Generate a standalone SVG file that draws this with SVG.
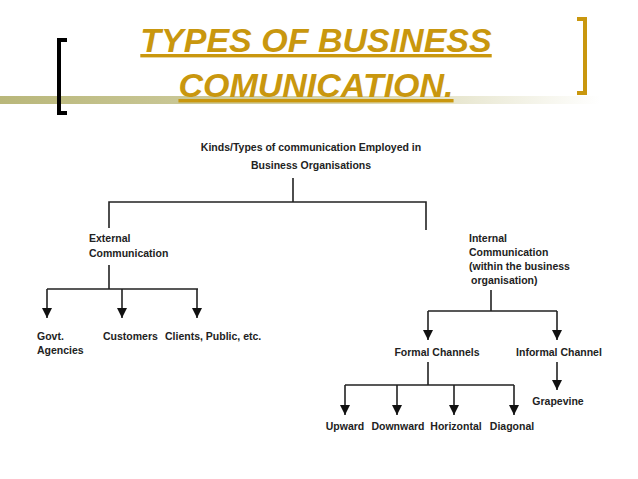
<svg xmlns="http://www.w3.org/2000/svg" width="638" height="479" viewBox="0 0 638 479">
<defs>
<linearGradient id="bar" x1="0" x2="1" y1="0" y2="0">
<stop offset="0" stop-color="#b9b77a"/><stop offset="0.6" stop-color="#d8d6b0"/><stop offset="1" stop-color="#ffffff"/>
</linearGradient>
<marker id="ah" viewBox="0 0 10 10" refX="10" refY="5" markerWidth="10" markerHeight="10" markerUnits="userSpaceOnUse" orient="auto">
<path d="M0,0 L10,5 L0,10 Z" fill="#111"/>
</marker>
<style>
.t{font-family:"Liberation Sans",Arial,sans-serif;font-weight:bold;font-size:10.5px;fill:#222}
.title{font-family:"Liberation Sans",Arial,sans-serif;font-weight:bold;font-style:italic;font-size:34px;fill:#c9970e;text-decoration:underline}
.c line,.c path{stroke:#222;stroke-width:1.6;fill:none}
</style>
</defs>
<rect width="638" height="479" fill="#fff"/>
<rect x="0" y="96" width="600" height="8" fill="url(#bar)"/>
<path d="M67,40 H59 V113 H67" fill="none" stroke="#000" stroke-width="4"/>
<path d="M577,19 H585 V93 H577" fill="none" stroke="#c9970e" stroke-width="4"/>
<g id="title">
<text class="title" x="316" y="52" text-anchor="middle">TYPES OF BUSINESS</text>
<text class="title" x="316" y="97" text-anchor="middle">COMUNICATION.</text>
</g>
<g id="root"><text class="t" x="311" y="151" text-anchor="middle">Kinds/Types of communication Employed in</text><text class="t" x="311" y="169" text-anchor="middle">Business Organisations</text></g>
<g id="external"><text class="t" x="89" y="242">External</text><text class="t" x="89" y="257">Communication</text></g>
<g id="internal"><text class="t" x="469" y="242">Internal</text><text class="t" x="469" y="256">Communication</text><text class="t" x="469" y="270">(within the business</text><text class="t" x="471" y="284">organisation)</text></g>
<g id="govt"><text class="t" x="37" y="340">Govt.</text><text class="t" x="37" y="354">Agencies</text></g>
<g id="customers"><text class="t" x="103" y="340">Customers</text></g>
<g id="clients"><text class="t" x="165" y="340">Clients, Public, etc.</text></g>
<g id="formal"><text class="t" x="437" y="356" text-anchor="middle">Formal Channels</text></g>
<g id="informal"><text class="t" x="559" y="356" text-anchor="middle">Informal Channel</text></g>
<g id="grapevine"><text class="t" x="558" y="405" text-anchor="middle">Grapevine</text></g>
<g id="upward"><text class="t" x="345" y="430" text-anchor="middle">Upward</text></g>
<g id="downward"><text class="t" x="398" y="430" text-anchor="middle">Downward</text></g>
<g id="horizontal"><text class="t" x="456" y="430" text-anchor="middle">Horizontal</text></g>
<g id="diagonal"><text class="t" x="512" y="430" text-anchor="middle">Diagonal</text></g>
<g id="connectors" class="c">
<path d="M293,178 V202 M109,228 V202 H426 V230"/>
<path d="M109,265 V289 M47,289 H198"/>
<line x1="47" y1="289" x2="47" y2="318" marker-end="url(#ah)"/>
<line x1="122" y1="289" x2="122" y2="318" marker-end="url(#ah)"/>
<line x1="197" y1="289" x2="197" y2="318" marker-end="url(#ah)"/>
<path d="M491,290 V311 M428,311 H557"/>
<line x1="428" y1="311" x2="428" y2="340" marker-end="url(#ah)"/>
<line x1="557" y1="311" x2="557" y2="340" marker-end="url(#ah)"/>
<path d="M428,362 V385 M345,385 H514"/>
<line x1="345" y1="385" x2="345" y2="415" marker-end="url(#ah)"/>
<line x1="397" y1="385" x2="397" y2="415" marker-end="url(#ah)"/>
<line x1="454" y1="385" x2="454" y2="415" marker-end="url(#ah)"/>
<line x1="514" y1="385" x2="514" y2="415" marker-end="url(#ah)"/>
<line x1="557" y1="362" x2="557" y2="390" marker-end="url(#ah)"/>
</g>
</svg>
